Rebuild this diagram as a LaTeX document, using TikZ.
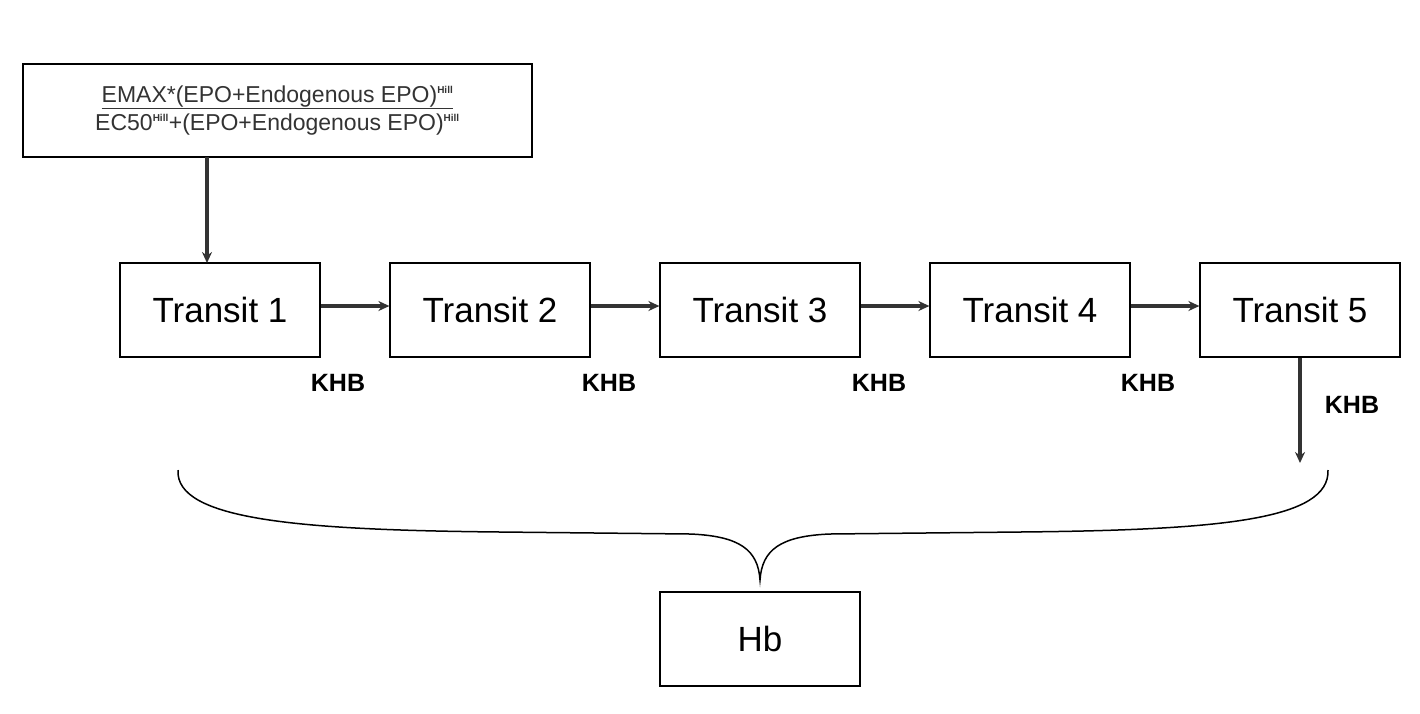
\documentclass[tikz,border=0pt]{standalone}
\usepackage{fontspec}
\setmainfont{Liberation Sans}
\usetikzlibrary{arrows.meta}
\newcommand{\hillsup}{\textsuperscript{\fontsize{10}{10}\selectfont\bfseries Hill}}
\begin{document}
\begin{tikzpicture}[x=1pt,y=-1pt,
  box/.style={draw,line width=1.2pt,minimum width=200pt,minimum height=94pt,inner sep=0pt,font=\fontsize{35}{40}\selectfont},
  flow/.style={line width=4pt,draw=black!80,-{Stealth[length=11pt,width=10pt]}},
  lab/.style={font=\bfseries\fontsize{25}{28}\selectfont}]
\useasboundingbox (0,0) rectangle (1420,713);
\node[draw,line width=1.2pt,minimum width=509pt,minimum height=93pt,inner sep=0pt,align=center,font=\fontsize{23}{26}\selectfont,text=black!80] (f) at (277.5,110.5)
 {\underline{EMAX*(EPO+Endogenous EPO)\hillsup}\\[2pt]
  EC50\hillsup+(EPO+Endogenous EPO)\hillsup};
\node[box] (t1) at (220,310) {Transit 1};
\node[box] (t2) at (490,310) {Transit 2};
\node[box] (t3) at (760,310) {Transit 3};
\node[box] (t4) at (1030,310) {Transit 4};
\node[box] (t5) at (1300,310) {Transit 5};
\node[box] (hb) at (760,639) {Hb};
\coordinate (fa) at (207,157);
\coordinate (fb) at (207,263);
\draw[flow] (fa) -- (fb);
\draw[flow] ([yshift=4pt]t1.east) -- ([yshift=4pt]t2.west);
\draw[flow] ([yshift=4pt]t2.east) -- ([yshift=4pt]t3.west);
\draw[flow] ([yshift=4pt]t3.east) -- ([yshift=4pt]t4.west);
\draw[flow] ([yshift=4pt]t4.east) -- ([yshift=4pt]t5.west);
\coordinate (e5) at (1300,463);
\draw[flow] (t5.south) -- (e5);
\node[lab] (k1) at (338,383) {KHB};
\node[lab] (k2) at (609,383) {KHB};
\node[lab] (k3) at (879,383) {KHB};
\node[lab] (k4) at (1148,383) {KHB};
\node[lab] (k5) at (1352,405) {KHB};
\coordinate (bl) at (178,470);
\coordinate (br) at (1328,470);
\coordinate (bt) at (760,580);
\draw[line width=1.5pt] (bl) .. controls (175,520) and (300,530) .. (500,532)
  -- (690,534) .. controls (740,536) and (758,550) .. (bt)
  .. controls (762,550) and (780,536) .. (830,534) -- (1020,532)
  .. controls (1220,530) and (1330,520) .. (br);
\end{tikzpicture}
\end{document}
